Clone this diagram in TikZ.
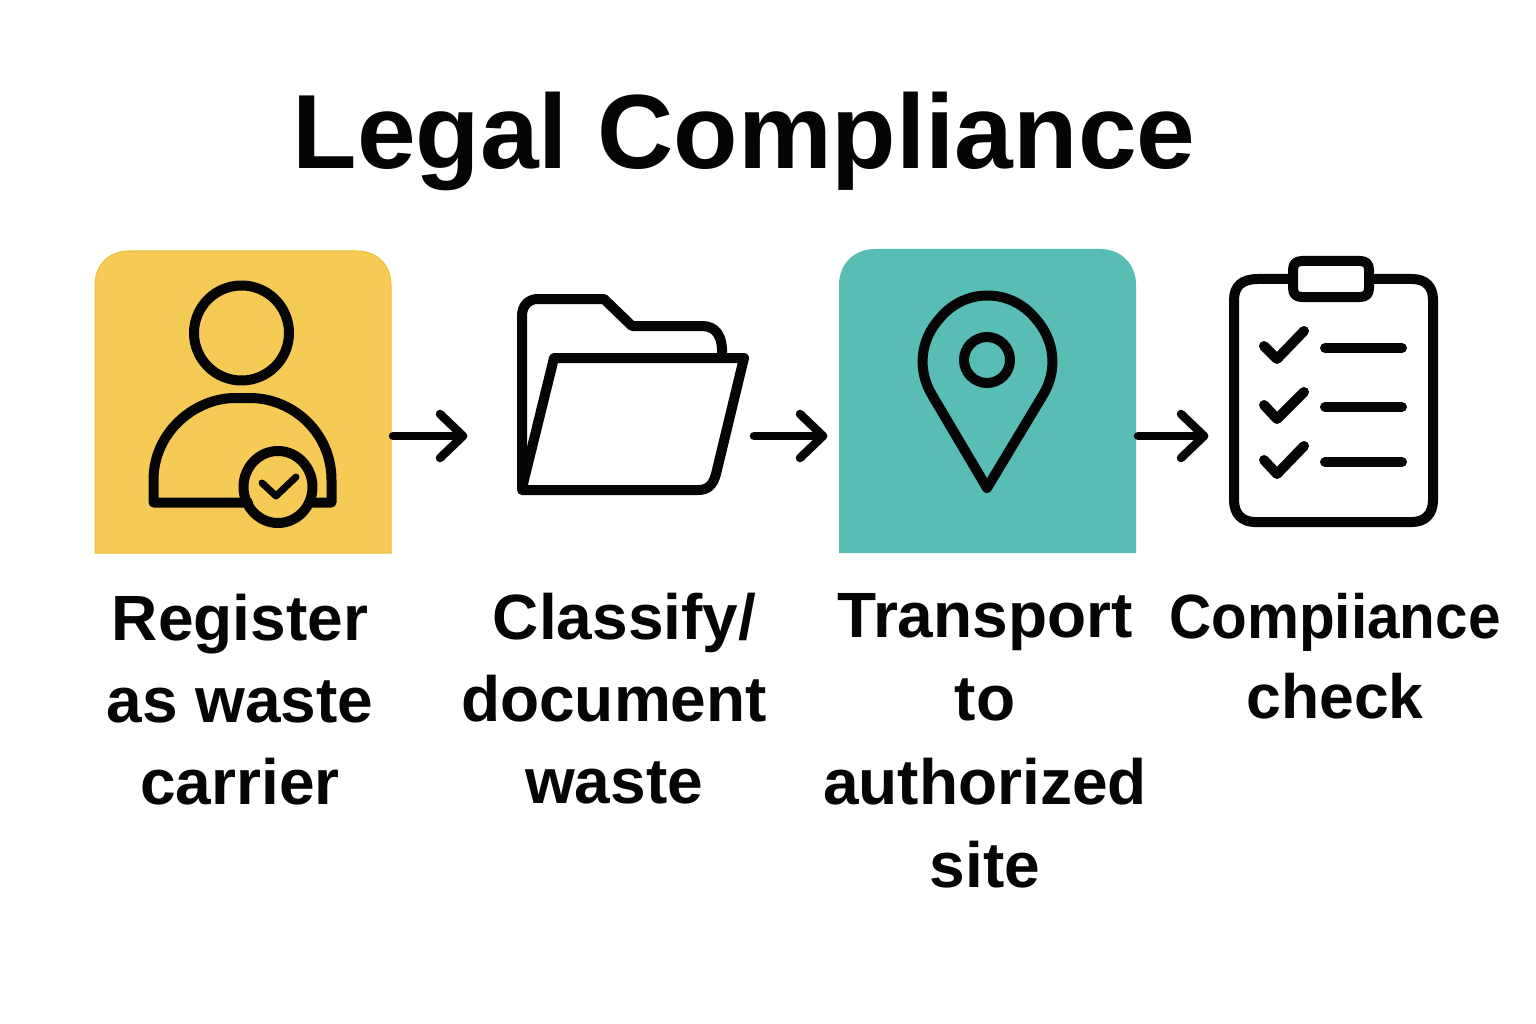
\documentclass[tikz,border=0pt]{standalone}
\usepackage{fontspec}
\setmainfont{Liberation Sans}[BoldFont={Liberation Sans Bold}]
\definecolor{ink}{HTML}{050505}
\definecolor{sun}{HTML}{F5CA55}
\definecolor{sunedge}{HTML}{EDBF3C}
\definecolor{tealtile}{HTML}{58BDB5}
\tikzset{
  iconline/.style={draw=ink,line width=10pt,line cap=round,line join=round},
  flow/.style={draw=ink,line width=8.5pt,line cap=round,line join=round},
  captext/.style={font=\bfseries\fontsize{64}{82}\selectfont,text=ink,align=center,anchor=north,inner sep=0pt},
}
\begin{document}
\begin{tikzpicture}[x=1pt,y=-1pt]
\useasboundingbox (0,0) rectangle (1536,1024);
\fill[white] (0,0) rectangle (1536,1024);
\node[font=\bfseries\fontsize{105.5}{120}\selectfont,text=ink,inner sep=0pt] (title) at (744,141) {Legal Compliance};
% tiles
\filldraw[fill=sun,draw=sunedge,line width=1pt] (95,553) -- (95,285) .. controls (95,265) and (109,251) .. (129,251) -- (357,251) .. controls (377,251) and (391,265) .. (391,285) -- (391,553) -- cycle;
\fill[tealtile] (839,553) -- (839,285) .. controls (839,264) and (854,249) .. (875,249) -- (1100,249) .. controls (1121,249) and (1136,264) .. (1136,285) -- (1136,553) -- cycle;
% person
\draw[iconline] (241.5,333) circle[radius=47.5];
\draw[iconline] (248,502.5) -- (153.5,502.5) -- (153.5,480) .. controls (153.5,432) and (195,398) .. (235,398) -- (250,398) .. controls (292,398) and (331.5,432) .. (331.5,480) -- (331.5,502.5) -- (310,502.5);
\draw[iconline] (278,487) ellipse[x radius=34.5,y radius=36];
\draw[draw=ink,line width=7pt,line cap=round,line join=round] (262,483) -- (276,496) -- (296,477);
% folder
\draw[iconline] (522,488) -- (522,316) .. controls (522,306) and (528,299) .. (538,299) -- (604,299) -- (632,326) -- (702,326) .. controls (716,326) and (723,336) .. (722,356);
\draw[iconline] (522,488) -- (554,358) -- (744,358) -- (716,474) .. controls (713,485) and (708,490) .. (698,490) -- (522,490);
% pin
\draw[iconline] (987,488) -- (932,395) .. controls (917,370) and (920,340) .. (940,318) .. controls (965,288) and (1010,288) .. (1035,318) .. controls (1055,340) and (1058,370) .. (1043,395) -- cycle;
\draw[iconline] (987,360) circle[radius=23];
% clipboard
\draw[iconline] (1370,279) -- (1412,279) .. controls (1425,279) and (1433,286) .. (1433,300) -- (1433,500) .. controls (1433,514) and (1425,522) .. (1412,522) -- (1255,522) .. controls (1242,522) and (1234,514) .. (1234,500) -- (1234,300) .. controls (1234,286) and (1242,279) .. (1258,279) -- (1292,279);
\draw[iconline] (1302,261) -- (1360,261) .. controls (1366,261) and (1369,264) .. (1369,270) -- (1369,288) .. controls (1369,294) and (1366,297) .. (1360,297) -- (1302,297) .. controls (1296,297) and (1293,294) .. (1293,288) -- (1293,270) .. controls (1293,264) and (1296,261) .. (1302,261) -- cycle;
\draw[iconline] (1264,346) -- (1277,359) -- (1304,331);
\draw[iconline] (1264,405) -- (1277,419) -- (1304,392);
\draw[iconline] (1264,460) -- (1277,474) -- (1304,446);
\draw[iconline] (1325,348) -- (1402,348);
\draw[iconline] (1325,407) -- (1402,407);
\draw[iconline] (1325,462) -- (1402,462);
% arrows
\coordinate (a1s) at (393,436); \coordinate (a1e) at (463,436);
\coordinate (a2s) at (754,436); \coordinate (a2e) at (823,436);
\coordinate (a3s) at (1138,436); \coordinate (a3e) at (1204,436);
\draw[flow] (a1s) -- (a1e); \draw[flow] (440,414) -- (a1e) -- (440,458);
\draw[flow] (a2s) -- (a2e); \draw[flow] (800,414) -- (a2e) -- (800,458);
\draw[flow] (a3s) -- (a3e); \draw[flow] (1181,414) -- (a3e) -- (1181,458);
% captions
\node[captext] (c1) at (240,594) {Register\\as waste\\carrier};
\node[captext] (c2) at (614,593) {\hspace*{21pt}Classify/\\document\\waste};
\node[captext,font=\bfseries\fontsize{64}{83.5}\selectfont] (c3) at (985,593) {Transport\\to\\authorized\\site};
\node[captext,font=\bfseries\fontsize{62.5}{80}\selectfont] (c4) at (1335,593) {\scalebox{0.935}[1]{Compiiance}\\check};
\end{tikzpicture}
\end{document}
